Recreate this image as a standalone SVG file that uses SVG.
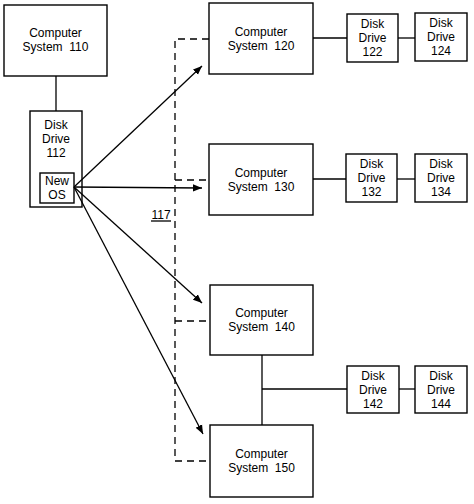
<svg xmlns="http://www.w3.org/2000/svg" width="474" height="504" viewBox="0 0 474 504">
<style>
.box{fill:#fff;stroke:#000;stroke-width:1.4}
.t{font-family:"Liberation Sans",Arial,sans-serif;font-size:12px;fill:#000;text-anchor:middle;white-space:pre}
.ln{stroke:#000;stroke-width:1.3;fill:none}
.ds{stroke:#000;stroke-width:1.3;fill:none;stroke-dasharray:7 5}
</style>
<defs>
<marker id="ah" viewBox="0 0 10 10" refX="10" refY="5" markerWidth="9" markerHeight="9" markerUnits="userSpaceOnUse" orient="auto">
<path d="M0,1 L10,5 L0,9 Z" fill="#000"/>
</marker>
</defs>
<rect width="474" height="504" fill="#fff"/>
<g id="cs110">
<rect class="box" x="4" y="5" width="103" height="71"/>
<text class="t" x="55.5" y="37">Computer</text>
<text class="t" x="55.5" y="51" xml:space="preserve">System  110</text>
</g>
<g id="dd112">
<rect class="box" x="30" y="111" width="52" height="96"/>
<text class="t" x="56" y="129">Disk</text>
<text class="t" x="56" y="143">Drive</text>
<text class="t" x="56" y="157">112</text>
</g>
<g id="newos">
<rect class="box" x="40" y="173" width="34" height="30"/>
<text class="t" x="57" y="185">New</text>
<text class="t" x="57" y="199">OS</text>
</g>
<g id="cs120">
<rect class="box" x="209" y="3" width="104" height="71"/>
<text class="t" x="261" y="36">Computer</text>
<text class="t" x="261" y="50" xml:space="preserve">System  120</text>
</g>
<g id="dd122">
<rect class="box" x="347" y="14" width="51" height="48"/>
<text class="t" x="372.5" y="28">Disk</text>
<text class="t" x="372.5" y="42">Drive</text>
<text class="t" x="372.5" y="56">122</text>
</g>
<g id="dd124">
<rect class="box" x="415" y="13" width="52" height="48"/>
<text class="t" x="441" y="27">Disk</text>
<text class="t" x="441" y="41">Drive</text>
<text class="t" x="441" y="55">124</text>
</g>
<g id="cs130">
<rect class="box" x="209" y="144" width="104" height="71"/>
<text class="t" x="261" y="177">Computer</text>
<text class="t" x="261" y="191" xml:space="preserve">System  130</text>
</g>
<g id="dd132">
<rect class="box" x="346" y="154" width="51" height="48"/>
<text class="t" x="371.5" y="168">Disk</text>
<text class="t" x="371.5" y="182">Drive</text>
<text class="t" x="371.5" y="196">132</text>
</g>
<g id="dd134">
<rect class="box" x="415" y="154" width="52" height="48"/>
<text class="t" x="441" y="168">Disk</text>
<text class="t" x="441" y="182">Drive</text>
<text class="t" x="441" y="196">134</text>
</g>
<g id="cs140">
<rect class="box" x="210" y="285" width="103" height="70"/>
<text class="t" x="261.5" y="317">Computer</text>
<text class="t" x="261.5" y="331" xml:space="preserve">System  140</text>
</g>
<g id="dd142">
<rect class="box" x="347" y="366" width="52" height="47"/>
<text class="t" x="373" y="380">Disk</text>
<text class="t" x="373" y="394">Drive</text>
<text class="t" x="373" y="408">142</text>
</g>
<g id="dd144">
<rect class="box" x="415" y="366" width="52" height="47"/>
<text class="t" x="441" y="380">Disk</text>
<text class="t" x="441" y="394">Drive</text>
<text class="t" x="441" y="408">144</text>
</g>
<g id="cs150">
<rect class="box" x="210" y="425" width="103" height="72"/>
<text class="t" x="261.5" y="458">Computer</text>
<text class="t" x="261.5" y="472" xml:space="preserve">System  150</text>
</g>
<g id="label117">
<text class="t" x="161" y="219">117</text>
<line class="ln" x1="151" y1="221" x2="171" y2="221" stroke-width="1"/>
</g>
<g id="connectors">
<line class="ln" x1="56" y1="76" x2="56" y2="111"/>
<line class="ln" x1="313" y1="38" x2="347" y2="38"/>
<line class="ln" x1="398" y1="38" x2="415" y2="38"/>
<line class="ln" x1="313" y1="179" x2="346" y2="179"/>
<line class="ln" x1="397" y1="179" x2="415" y2="179"/>
<line class="ln" x1="262" y1="355" x2="262" y2="425"/>
<line class="ln" x1="262" y1="389" x2="347" y2="389"/>
<line class="ln" x1="399" y1="389" x2="415" y2="389"/>
<path class="ds" d="M209,39 H175 V461 H210"/>
<line class="ds" x1="175" y1="180" x2="209" y2="180"/>
<line class="ds" x1="175" y1="321" x2="210" y2="321"/>
<line class="ln" x1="74" y1="187" x2="202" y2="66" marker-end="url(#ah)"/>
<line class="ln" x1="74" y1="187" x2="202" y2="188" marker-end="url(#ah)"/>
<line class="ln" x1="74" y1="187" x2="202" y2="303" marker-end="url(#ah)"/>
<line class="ln" x1="74" y1="187" x2="203" y2="434" marker-end="url(#ah)"/>
</g>
</svg>
